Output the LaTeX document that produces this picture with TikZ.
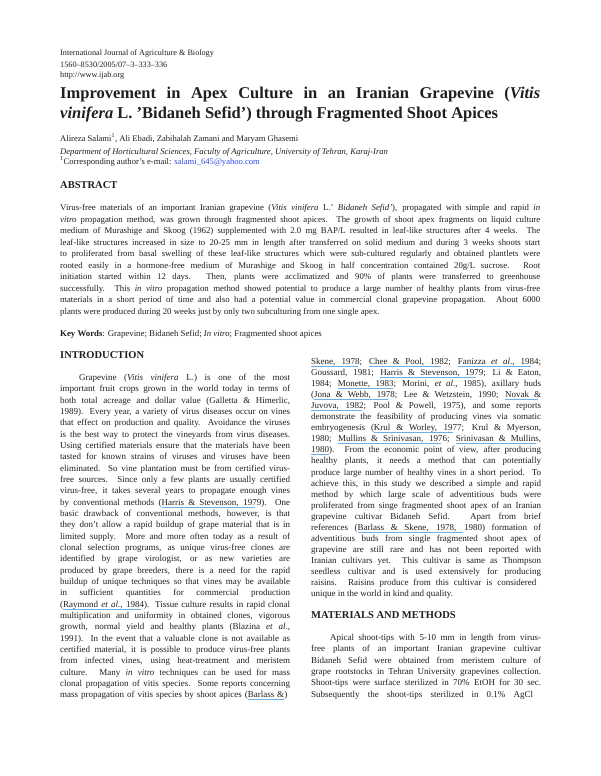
\documentclass[tikz,border=0pt]{standalone}
\usepackage{fontspec}
\setmainfont{Liberation Serif}
\definecolor{lb}{HTML}{6AB0EA}
\definecolor{em}{HTML}{2F4BE8}
\newlength\lkw
\newcommand\lk[1]{\settowidth\lkw{#1}\rlap{\textcolor{lb}{\rule[-2.3pt]{\lkw}{0.8pt}}}#1}
\newcommand\Ln[4]{\node[txt] at (#1pt,-#2pt) {\makebox[#3pt][s]{#4}};}
\newcommand\Lf[3]{\node[txt] at (#1pt,-#2pt) {#3};}
\tikzset{txt/.style={anchor=base west,inner sep=0pt,text=black!88}}
\begin{document}
\begin{tikzpicture}
\useasboundingbox[fill=white] (0,0) rectangle (600pt,-776pt);
% header
\begin{scope}[font=\fontsize{8.2}{9}\selectfont]
\Lf{60}{56}{\textsc{International Journal of Agriculture \& Biology}}
\Lf{60}{67}{1560–8530/2005/07–3–333–336}
\Lf{60}{77.5}{http://www.ijab.org}
\end{scope}
\begin{scope}[font=\fontsize{16.5}{18}\selectfont\bfseries]
\Ln{60}{99}{480}{Improvement in Apex Culture in an Iranian Grapevine (\textit{Vitis}}
\Lf{60}{118}{\textit{vinifera} L. 'Bidaneh Sefid') through Fragmented Shoot Apices}
\end{scope}
\begin{scope}[font=\fontsize{8.6}{10}\selectfont]
\Lf{60}{141}{\textsc{Alireza Salami}\textsuperscript{1}, \textsc{Ali Ebadi, Zabihalah Zamani and Maryam Ghasemi}}
\Lf{60}{154}{\textit{Department of Horticultural Sciences, Faculty of Agriculture, University of Tehran, Karaj-Iran}}
\Lf{60}{164}{\textsuperscript{1}Corresponding author's e-mail: \textcolor{em}{salami\_645@yahoo.com}}
\end{scope}
\Lf{60}{188.5}{\fontsize{10.5}{12}\selectfont\bfseries ABSTRACT}
\begin{scope}[font=\fontsize{8.8}{10}\selectfont]
\Ln{60}{210.5}{480}{Virus-free materials of an important Iranian grapevine (\textit{Vitis vinifera} L.' \textit{Bidaneh Sefid'}), propagated with simple and rapid \textit{in}}
\Ln{60}{222}{480}{\textit{vitro} propagation method, was grown through fragmented shoot apices. The growth of shoot apex fragments on liquid culture}
\Ln{60}{233.5}{480}{medium of Murashige and Skoog (1962) supplemented with 2.0 mg BAP/L resulted in leaf-like structures after 4 weeks. The}
\Ln{60}{245}{480}{leaf-like structures increased in size to 20-25 mm in length after transferred on solid medium and during 3 weeks shoots start}
\Ln{60}{256.5}{480}{to proliferated from basal swelling of these leaf-like structures which were sub-cultured regularly and obtained plantlets were}
\Ln{60}{268}{480}{rooted easily in a hormone-free medium of Murashige and Skoog in half concentration contained 20g/L sucrose. Root}
\Ln{60}{279.5}{480}{initiation started within 12 days. Then, plants were acclimatized and 90\% of plants were transferred to greenhouse}
\Ln{60}{291}{480}{successfully. This \textit{in vitro} propagation method showed potential to produce a large number of healthy plants from virus-free}
\Ln{60}{302.5}{480}{materials in a short period of time and also had a potential value in commercial clonal grapevine propagation. About 6000}
\Lf{60}{314}{plants were produced during 20 weeks just by only two subculturing from one single apex.}
\Lf{60}{336}{\textbf{Key Words}: Grapevine; Bidaneh Sefid; \textit{In vitro}; Fragmented shoot apices}
\end{scope}
\Lf{60}{358}{\fontsize{10.5}{12}\selectfont\bfseries INTRODUCTION}
\Lf{311}{618}{\fontsize{10.5}{12}\selectfont\bfseries MATERIALS AND METHODS}
\begin{scope}[font=\fontsize{9}{10}\selectfont]
\foreach \t [count=\i from 0] in {
{\hspace{2.1em}Grapevine (\textit{Vitis vinifera} L.) is one of the most},
{important fruit crops grown in the world today in terms of},
{both total acreage and dollar value (Galletta \& Himerlic,},
{1989). Every year, a variety of virus diseases occur on vines},
{that effect on production and quality. Avoidance the viruses},
{is the best way to protect the vineyards from virus diseases.},
{Using certified materials ensure that the materials have been},
{tasted for known strains of viruses and viruses have been},
{eliminated. So vine plantation must be from certified virus-},
{free sources. Since only a few plants are usually certified},
{virus-free, it takes several years to propagate enough vines},
{by conventional methods (\lk{Harris \& Stevenson, 1979}). One},
{basic drawback of conventional methods, however, is that},
{they don't allow a rapid buildup of grape material that is in},
{limited supply. More and more often today as a result of},
{clonal selection programs, as unique virus-free clones are},
{identified by grape virologist, or as new varieties are},
{produced by grape breeders, there is a need for the rapid},
{buildup of unique techniques so that vines may be available},
{in sufficient quantities for commercial production},
{(\lk{Raymond \textit{et al.}, 1984}). Tissue culture results in rapid clonal},
{multiplication and uniformity in obtained clones, vigorous},
{growth, normal yield and healthy plants (Blazina \textit{et al.},},
{1991). In the event that a valuable clone is not available as},
{certified material, it is possible to produce virus-free plants},
{from infected vines, using heat-treatment and meristem},
{culture. Many \textit{in vitro} techniques can be used for mass},
{clonal propagation of vitis species. Some reports concerning},
{mass propagation of vitis species by shoot apices (\lk{Barlass \&})}
}{\pgfmathsetmacro\yy{380.5+11.33*\i}\Ln{60}{\yy}{230}{\t}}
\foreach \t [count=\i from 0] in {
{\lk{Skene, 1978;} \lk{Chee \& Pool, 1982;} \lk{Fanizza \textit{et al}., 1984;}},
{Goussard, 1981; \lk{Harris \& Stevenson, 1979;} Li \& Eaton,},
{1984; \lk{Monette, 1983;} Morini, \textit{et al}., 1985), axillary buds},
{(\lk{Jona \& Webb, 1978;} Lee \& Wetzstein, 1990; \lk{Novak \&}},
{\lk{Juvova, 1982;} Pool \& Powell, 1975), and some reports},
{demonstrate the feasibility of producing vines via somatic},
{embryogenesis (\lk{Krul \& Worley, 1977;} Krul \& Myerson,},
{1980; \lk{Mullins \& Srinivasan, 1976;} \lk{Srinivasan \& Mullins,}},
{\lk{1980}). From the economic point of view, after producing},
{healthy plants, it needs a method that can potentially},
{produce large number of healthy vines in a short period. To},
{achieve this, in this study we described a simple and rapid},
{method by which large scale of adventitious buds were},
{proliferated from singe fragmented shoot apex of an Iranian},
{grapevine cultivar Bidaneh Sefid. Apart from brief},
{references (\lk{Barlass \& Skene, 1978, 1980}) formation of},
{adventitious buds from single fragmented shoot apex of},
{grapevine are still rare and has not been reported with},
{Iranian cultivars yet. This cultivar is same as Thompson},
{seedless cultivar and is used extensively for producing},
{raisins. Raisins produce from this cultivar is considered}
}{\pgfmathsetmacro\yy{364.5+11.05*\i}\Ln{311}{\yy}{230}{\t}}
\Lf{311}{596.5}{unique in the world in kind and quality.}
\foreach \t [count=\i from 0] in {
{\hspace{2.1em}Apical shoot-tips with 5-10 mm in length from virus-},
{free plants of an important Iranian grapevine cultivar},
{Bidaneh Sefid were obtained from meristem culture of},
{grape rootstocks in Tehran University grapevines collection.},
{Shoot-tips were surface sterilized in 70\% EtOH for 30 sec.},
{Subsequently the shoot-tips sterilized in 0.1\% AgCl}
}{\pgfmathsetmacro\yy{640.5+11.35*\i}\Ln{311}{\yy}{230}{\t}}
\end{scope}
\end{tikzpicture}
\end{document}
